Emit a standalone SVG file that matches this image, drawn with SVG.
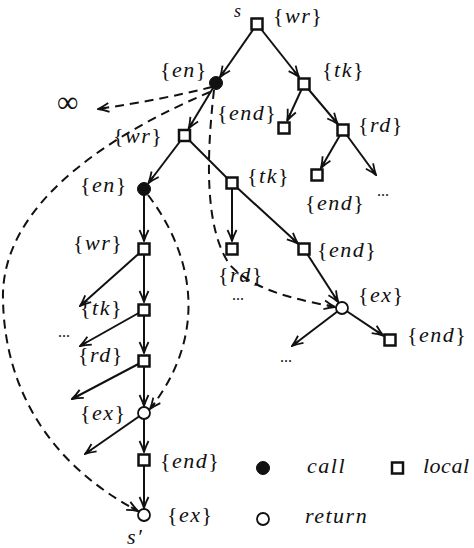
<svg xmlns="http://www.w3.org/2000/svg" width="474" height="548" viewBox="0 0 474 548">
<style>
.e{fill:none;stroke:#111;stroke-width:2;marker-end:url(#ah)}
.n{fill:none;stroke:#111;stroke-width:2}
.d{fill:none;stroke:#111;stroke-width:2;stroke-dasharray:9,6;marker-end:url(#ah)}
.sq{fill:#fff;stroke:#111;stroke-width:2.5}
.cl{fill:#111;stroke:#111;stroke-width:1}
.rt{fill:#fff;stroke:#111;stroke-width:1.8}
text{font-family:"Liberation Serif","DejaVu Serif",serif;font-style:italic;font-size:22px;fill:#111;letter-spacing:1.5px}
.b{font-style:normal}
.dots{font-size:16px;font-style:normal;letter-spacing:0}
</style>
<defs>
<marker id="ah" markerWidth="14" markerHeight="12" viewBox="-13 -6 14 12" refX="0" refY="0" orient="auto" markerUnits="userSpaceOnUse">
<path d="M-11,-4.5 Q-5,-1.5 0,0 Q-5,1.5 -11,4.5 M-8,0 L0,0" fill="none" stroke="#111" stroke-width="1.8"/>
</marker>
</defs>
<g id="connectors">
<path class="e" d="M257 24 L220 77.2"/>
<path class="e" d="M257 24 L299 77"/>
<path class="e" d="M216 83 L188.6 128.6"/>
<path class="e" d="M304 84 L287.2 120.6"/>
<path class="e" d="M304 84 L337.8 124"/>
<path class="e" d="M343 130 L321 168"/>
<path class="e" d="M343 130 L376 175"/>
<path class="e" d="M184.5 135.5 L148.5 183"/>
<path class="n" d="M184.5 135.5 L232 183"/>
<path class="e" d="M232 183 L232 241"/>
<path class="e" d="M232 183 L298 243.6"/>
<path class="e" d="M304 249 L338.2 302"/>
<path class="e" d="M342 308 L383.3 335.6"/>
<path class="e" d="M342 308 L292 346"/>
<path class="e" d="M144 189 L144 241"/>
<path class="e" d="M144 249 L144 302"/>
<path class="e" d="M144 310 L144 353"/>
<path class="e" d="M144 361 L144 406"/>
<path class="e" d="M144 413 L144 452"/>
<path class="e" d="M144 460 L144 508"/>
<path class="e" d="M144 249 L80 306"/>
<path class="e" d="M144 310 L80 346"/>
<path class="e" d="M144 361 L72 399"/>
<path class="e" d="M144 413 L85 454"/>
<path class="d" d="M212 87 Q160 100 98 109"/>
<path class="d" d="M210 92 C120 130 0 200 3 300 C5 400 60 470 138 511"/>
<path class="d" d="M214 90 C206 160 205 230 230 265 C255 292 300 300 335 307"/>
<path class="d" d="M148 195 C190 250 212 330 150 409"/>
</g>
<g id="n_s"><rect class="sq" x="251.5" y="18.5" width="11" height="11"/><text x="234" y="17" style="font-size:18px">s</text><text x="273" y="23"><tspan class="b">{</tspan>wr<tspan class="b">}</tspan></text></g>
<g id="n_en1"><circle class="cl" cx="216" cy="83" r="6.5"/><text x="160" y="77"><tspan class="b">{</tspan>en<tspan class="b">}</tspan></text></g>
<g id="n_tk1"><rect class="sq" x="298.5" y="78.5" width="11" height="11"/><text x="322" y="77"><tspan class="b">{</tspan>tk<tspan class="b">}</tspan></text></g>
<g id="n_end1"><rect class="sq" x="278.5" y="122.5" width="11" height="11"/><text x="217" y="120"><tspan class="b">{</tspan>end<tspan class="b">}</tspan></text></g>
<g id="n_rd1"><rect class="sq" x="337.5" y="124.5" width="11" height="11"/><text x="358" y="132"><tspan class="b">{</tspan>rd<tspan class="b">}</tspan></text></g>
<g id="n_end2"><rect class="sq" x="311.5" y="169.5" width="11" height="11"/><text x="305" y="210"><tspan class="b">{</tspan>end<tspan class="b">}</tspan></text><text class="dots" x="377" y="196">...</text></g>
<g id="n_wr2"><rect class="sq" x="179" y="130" width="11" height="11"/><text x="113" y="143"><tspan class="b">{</tspan>wr<tspan class="b">}</tspan></text></g>
<g id="n_en2"><circle class="cl" cx="144" cy="189" r="6.5"/><text x="80" y="192"><tspan class="b">{</tspan>en<tspan class="b">}</tspan></text></g>
<g id="n_tk2"><rect class="sq" x="226.5" y="177.5" width="11" height="11"/><text x="247" y="183"><tspan class="b">{</tspan>tk<tspan class="b">}</tspan></text></g>
<g id="n_rd2"><rect class="sq" x="226.5" y="243.5" width="11" height="11"/><text x="218" y="282"><tspan class="b">{</tspan>rd<tspan class="b">}</tspan></text><text class="dots" x="232" y="300">...</text></g>
<g id="n_end3"><rect class="sq" x="298.5" y="243.5" width="11" height="11"/><text x="317" y="257"><tspan class="b">{</tspan>end<tspan class="b">}</tspan></text></g>
<g id="n_ex1"><circle class="rt" cx="342" cy="308" r="6"/><text x="358" y="302"><tspan class="b">{</tspan>ex<tspan class="b">}</tspan></text></g>
<g id="n_end4"><rect class="sq" x="384.5" y="334.5" width="11" height="11"/><text x="407" y="342"><tspan class="b">{</tspan>end<tspan class="b">}</tspan></text><text class="dots" x="280" y="362">...</text></g>
<g id="n_wr3"><rect class="sq" x="138.5" y="243.5" width="11" height="11"/><text x="73" y="250"><tspan class="b">{</tspan>wr<tspan class="b">}</tspan></text></g>
<g id="n_tk3"><rect class="sq" x="138.5" y="304.5" width="11" height="11"/><text x="80" y="315"><tspan class="b">{</tspan>tk<tspan class="b">}</tspan></text><text class="dots" x="58" y="337">...</text></g>
<g id="n_rd3"><rect class="sq" x="138.5" y="355.5" width="11" height="11"/><text x="78" y="362"><tspan class="b">{</tspan>rd<tspan class="b">}</tspan></text></g>
<g id="n_ex3"><circle class="rt" cx="144" cy="413" r="6"/><text x="80" y="420"><tspan class="b">{</tspan>ex<tspan class="b">}</tspan></text></g>
<g id="n_end5"><rect class="sq" x="138.5" y="454.5" width="11" height="11"/><text x="160" y="468"><tspan class="b">{</tspan>end<tspan class="b">}</tspan></text></g>
<g id="n_sp"><circle class="rt" cx="144" cy="515" r="6"/><text x="167" y="522"><tspan class="b">{</tspan>ex<tspan class="b">}</tspan></text><text x="127" y="544">s′</text></g>
<g id="inf"><text class="b" x="57" y="112" style="font-size:30px;letter-spacing:0">∞</text></g>
<g id="legend">
<circle class="cl" cx="263" cy="468" r="6.5"/><text x="307" y="473">call</text>
<rect class="sq" x="392" y="462.5" width="11" height="11"/><text x="423" y="473" style="letter-spacing:0.5px">local</text>
<circle class="rt" cx="263" cy="519" r="6"/><text x="305" y="523">return</text>
</g>
</svg>
